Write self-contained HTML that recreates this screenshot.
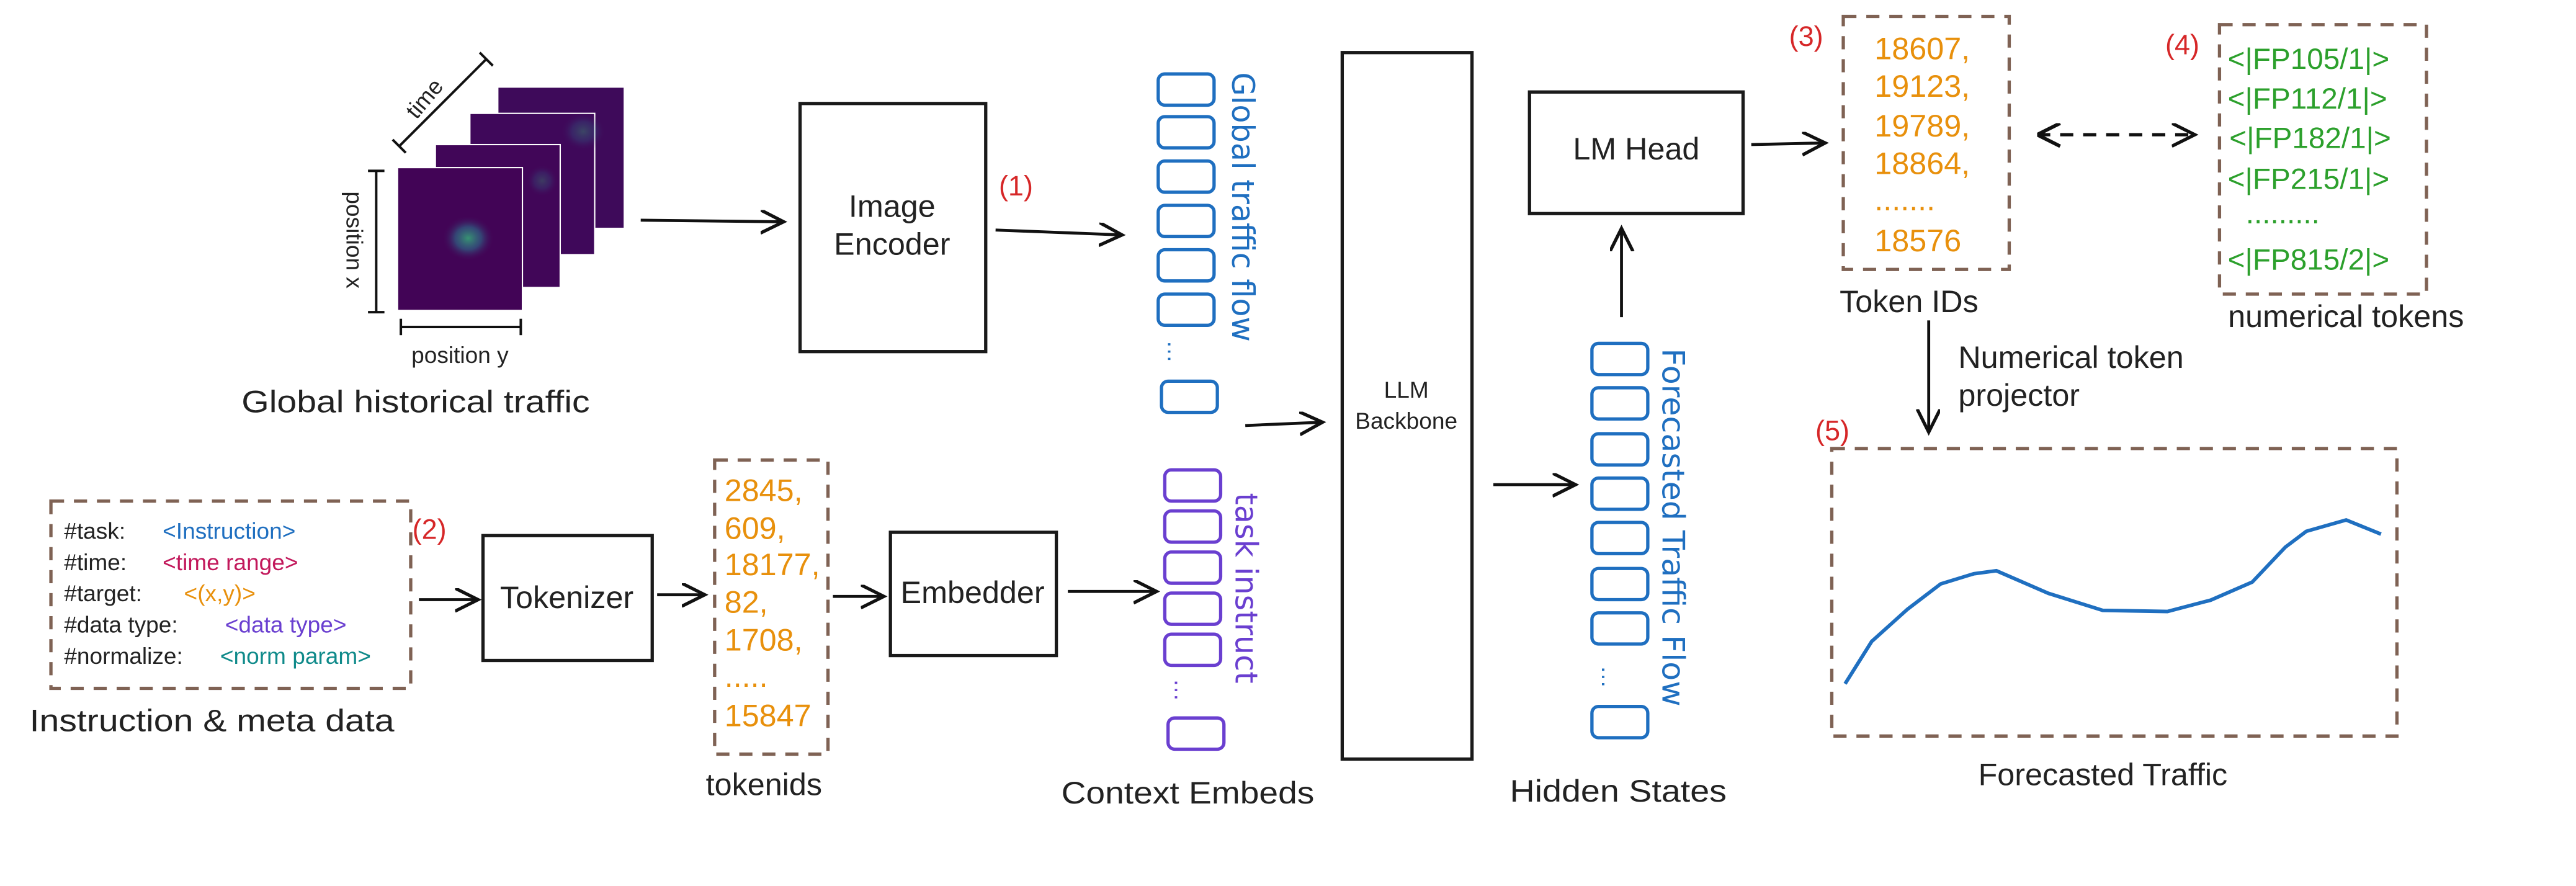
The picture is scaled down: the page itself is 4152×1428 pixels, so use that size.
<!DOCTYPE html>
<html><head><meta charset="utf-8"><style>
html,body{margin:0;padding:0;background:#fff}
svg{display:block}
text{font-family:"Liberation Sans","DejaVu Sans",sans-serif;fill:#222}
</style></head><body>
<svg width="4152" height="1428" viewBox="0 0 1568 539.27" preserveAspectRatio="none" xmlns="http://www.w3.org/2000/svg">
<defs>
<marker id="ah" markerWidth="20" markerHeight="20" refX="14" refY="7" orient="auto" markerUnits="userSpaceOnUse">
<polyline points="0,0 14,7 0,14" fill="none" stroke="#111" stroke-width="2"/>
</marker>
<marker id="ahs" markerWidth="20" markerHeight="20" refX="0" refY="7" orient="auto" markerUnits="userSpaceOnUse">
<polyline points="14,0 0,7 14,14" fill="none" stroke="#111" stroke-width="2.2"/>
</marker>
<radialGradient id="hot" cx="50%" cy="50%" r="50%">
<stop offset="0" stop-color="#35b779"/><stop offset="0.5" stop-color="#2a788e" stop-opacity="0.7"/><stop offset="1" stop-color="#440154" stop-opacity="0"/>
</radialGradient>
</defs>
<rect width="1568" height="539.27" fill="#fff"/>

<g stroke="#fff" stroke-width="0.8">
<rect x="303" y="53" width="77" height="86" fill="#3e0a5a"/>
<rect x="286" y="69" width="76" height="86" fill="#3f085a"/>
<rect x="265" y="88" width="76" height="87" fill="#410658"/>
<rect x="242" y="102" width="76" height="87" fill="#420456"/>
</g>
<ellipse cx="285" cy="145" rx="16" ry="14" fill="url(#hot)" opacity="0.8"/>
<ellipse cx="355" cy="80" rx="14" ry="12" fill="url(#hot)" opacity="0.35"/>
<ellipse cx="330" cy="110" rx="10" ry="10" fill="url(#hot)" opacity="0.3"/>

<g stroke="#111" stroke-width="1.5" fill="none">
<line x1="243" y1="89" x2="296" y2="36"/><line x1="239" y1="85" x2="247" y2="93"/><line x1="292" y1="32" x2="300" y2="40"/>
<line x1="229" y1="104" x2="229" y2="190"/><line x1="224" y1="104" x2="234" y2="104"/><line x1="224" y1="190" x2="234" y2="190"/>
<line x1="244" y1="199" x2="317" y2="199"/><line x1="244" y1="194" x2="244" y2="204"/><line x1="317" y1="194" x2="317" y2="204"/>
</g>
<text x="262" y="63" font-size="14" transform="rotate(-50 262 63)" text-anchor="middle">time</text>
<text x="216" y="146" font-size="14" font-family="DejaVu Sans" transform="rotate(90 216 146)" text-anchor="middle" dy="5">position x</text>
<text x="280" y="221" font-size="14" text-anchor="middle">position y</text>
<text x="253" y="251" font-size="19" text-anchor="middle" textLength="212" lengthAdjust="spacingAndGlyphs">Global historical traffic</text>

<g stroke="#111" stroke-width="1.8" fill="none" marker-end="url(#ah)">
<line x1="390" y1="134" x2="477" y2="135"/>
<line x1="606" y1="140" x2="683" y2="143"/>
<line x1="758" y1="259" x2="805" y2="257"/>
<line x1="909" y1="295" x2="959" y2="295"/>
<line x1="987" y1="193" x2="987" y2="139"/>
<line x1="1066" y1="88" x2="1111" y2="87"/>
<line x1="1174" y1="195" x2="1174" y2="263"/>
<line x1="255" y1="365" x2="291" y2="365"/>
<line x1="400" y1="362" x2="429" y2="362"/>
<line x1="507" y1="363" x2="538" y2="363"/>
<line x1="650" y1="360" x2="704" y2="360"/>
</g>
<line x1="1240" y1="82" x2="1336" y2="82" stroke="#111" stroke-width="2" stroke-dasharray="8,6" marker-start="url(#ahs)" marker-end="url(#ah)"/>

<g stroke="#1a1a1a" stroke-width="2" fill="none">
<rect x="487" y="63" width="113" height="151"/>
<rect x="817" y="32" width="79" height="430"/>
<rect x="931" y="56" width="130" height="74"/>
<rect x="294" y="326" width="103" height="76"/>
<rect x="542" y="324" width="101" height="75"/>
</g>
<text x="543" y="132" font-size="19" text-anchor="middle">Image</text>
<text x="543" y="155" font-size="19" text-anchor="middle">Encoder</text>
<text x="856" y="242" font-size="14" text-anchor="middle">LLM</text>
<text x="856" y="261" font-size="14" text-anchor="middle">Backbone</text>
<text x="996" y="97" font-size="19" text-anchor="middle">LM Head</text>
<text x="345" y="370" font-size="19" text-anchor="middle">Tokenizer</text>
<text x="592" y="367" font-size="19" text-anchor="middle">Embedder</text>

<g stroke="#7f6254" stroke-width="2" fill="none" stroke-dasharray="8,6">
<rect x="1122" y="10" width="101" height="154"/>
<rect x="1351" y="15" width="126" height="164"/>
<rect x="1115" y="273" width="344" height="175"/>
<rect x="31" y="305" width="219" height="114"/>
<rect x="435" y="280" width="69" height="179"/>
</g>

<g font-size="17">
<text x="608" y="119" style="fill:#d62728">(1)</text>
<text x="251" y="328" style="fill:#d62728">(2)</text>
<text x="1089" y="28" style="fill:#d62728">(3)</text>
<text x="1318" y="33" style="fill:#d62728">(4)</text>
<text x="1105" y="268" style="fill:#d62728">(5)</text>
</g>

<g stroke="#1f6fc0" stroke-width="2" fill="none">
<rect x="705" y="45" width="34" height="19" rx="4"/>
<rect x="705" y="71" width="34" height="19" rx="4"/>
<rect x="705" y="98" width="34" height="19" rx="4"/>
<rect x="705" y="125" width="34" height="19" rx="4"/>
<rect x="705" y="152" width="34" height="19" rx="4"/>
<rect x="705" y="179" width="34" height="19" rx="4"/>
<rect x="707" y="232" width="34" height="19" rx="4"/>
</g>
<text x="711" y="214" font-size="14" style="fill:#1f6fc0" text-anchor="middle" transform="rotate(90 711 214)">…</text>
<text x="750" y="44" font-size="19" style="fill:#1f6fc0;font-family:'DejaVu Sans',sans-serif" transform="rotate(90 750 44)" textLength="164" lengthAdjust="spacingAndGlyphs">Global traffic flow</text>

<g stroke="#6a3fd0" stroke-width="2" fill="none">
<rect x="709" y="286" width="34" height="19" rx="4"/>
<rect x="709" y="311" width="34" height="19" rx="4"/>
<rect x="709" y="336" width="34" height="19" rx="4"/>
<rect x="709" y="361" width="34" height="19" rx="4"/>
<rect x="709" y="386" width="34" height="19" rx="4"/>
<rect x="711" y="437" width="34" height="19" rx="4"/>
</g>
<text x="715" y="420" font-size="14" style="fill:#6a3fd0" text-anchor="middle" transform="rotate(90 715 420)">…</text>
<text x="752" y="300" font-size="19" style="fill:#6a3fd0;font-family:'DejaVu Sans',sans-serif" transform="rotate(90 752 300)" textLength="116" lengthAdjust="spacingAndGlyphs">task instruct</text>
<text x="723" y="489" font-size="19" text-anchor="middle" textLength="154" lengthAdjust="spacingAndGlyphs">Context Embeds</text>

<g stroke="#1f6fc0" stroke-width="2" fill="none">
<rect x="969" y="209" width="34" height="19" rx="4"/>
<rect x="969" y="236" width="34" height="19" rx="4"/>
<rect x="969" y="264" width="34" height="19" rx="4"/>
<rect x="969" y="291" width="34" height="19" rx="4"/>
<rect x="969" y="318" width="34" height="19" rx="4"/>
<rect x="969" y="346" width="34" height="19" rx="4"/>
<rect x="969" y="373" width="34" height="19" rx="4"/>
<rect x="969" y="430" width="34" height="19" rx="4"/>
</g>
<text x="975" y="412" font-size="14" style="fill:#1f6fc0" text-anchor="middle" transform="rotate(90 975 412)">…</text>
<text x="1012" y="212" font-size="19" style="fill:#1f6fc0;font-family:'DejaVu Sans',sans-serif" transform="rotate(90 1012 212)" textLength="218" lengthAdjust="spacingAndGlyphs">Forecasted Traffic Flow</text>
<text x="985" y="488" font-size="19" text-anchor="middle" textLength="132" lengthAdjust="spacingAndGlyphs">Hidden States</text>

<g font-size="19">
<text x="1141" y="36" style="fill:#e8900c">18607,</text>
<text x="1141" y="59" style="fill:#e8900c">19123,</text>
<text x="1141" y="83" style="fill:#e8900c">19789,</text>
<text x="1141" y="106" style="fill:#e8900c">18864,</text>
<text x="1141" y="128" style="fill:#e8900c">.......</text>
<text x="1141" y="153" style="fill:#e8900c">18576</text>
</g>
<text x="1162" y="190" font-size="19" text-anchor="middle">Token IDs</text>

<g font-size="18">
<text x="1356" y="42" style="fill:#2ca02c">&lt;|FP105/1|&gt;</text>
<text x="1356" y="66" style="fill:#2ca02c">&lt;|FP112/1|&gt;</text>
<text x="1357" y="90" style="fill:#2ca02c">&lt;|FP182/1|&gt;</text>
<text x="1356" y="115" style="fill:#2ca02c">&lt;|FP215/1|&gt;</text>
<text x="1367" y="136" style="fill:#2ca02c">.........</text>
<text x="1356" y="164" style="fill:#2ca02c">&lt;|FP815/2|&gt;</text>
</g>
<text x="1428" y="199" font-size="19" text-anchor="middle">numerical tokens</text>
<text x="1192" y="224" font-size="19">Numerical token</text>
<text x="1192" y="247" font-size="19">projector</text>

<polyline fill="none" stroke="#1f6fc0" stroke-width="2.2" points="1123.1,416.2 1139.3,390.4 1161.1,370.8 1181.3,355.4 1201.5,349.2 1215.2,347.4 1247,361.2 1279.9,371.5 1319.3,372.2 1345.6,365.3 1370.9,354.3 1391.1,333 1403.8,323.4 1428.1,316.5 1449.3,325.1"/>
<text x="1280" y="478" font-size="19" text-anchor="middle">Forecasted Traffic</text>

<g font-size="14">
<text x="39" y="328">#task:</text><text x="99" y="328" style="fill:#1f6fc0">&lt;Instruction&gt;</text>
<text x="39" y="347">#time:</text><text x="99" y="347" style="fill:#c2185b">&lt;time range&gt;</text>
<text x="39" y="366">#target:</text><text x="112" y="366" style="fill:#e8900c">&lt;(x,y)&gt;</text>
<text x="39" y="385">#data type:</text><text x="137" y="385" style="fill:#6a3fd0">&lt;data type&gt;</text>
<text x="39" y="404">#normalize:</text><text x="134" y="404" style="fill:#0f8a8a">&lt;norm param&gt;</text>
</g>
<text x="129" y="445" font-size="19" text-anchor="middle" textLength="222" lengthAdjust="spacingAndGlyphs">Instruction &amp; meta data</text>

<g font-size="19">
<text x="441" y="305" style="fill:#e8900c">2845,</text>
<text x="441" y="328" style="fill:#e8900c">609,</text>
<text x="441" y="350" style="fill:#e8900c">18177,</text>
<text x="441" y="373" style="fill:#e8900c">82,</text>
<text x="441" y="396" style="fill:#e8900c">1708,</text>
<text x="441" y="418" style="fill:#e8900c">.....</text>
<text x="441" y="442" style="fill:#e8900c">15847</text>
</g>
<text x="465" y="484" font-size="19" text-anchor="middle">tokenids</text>
</svg>
</body></html>
